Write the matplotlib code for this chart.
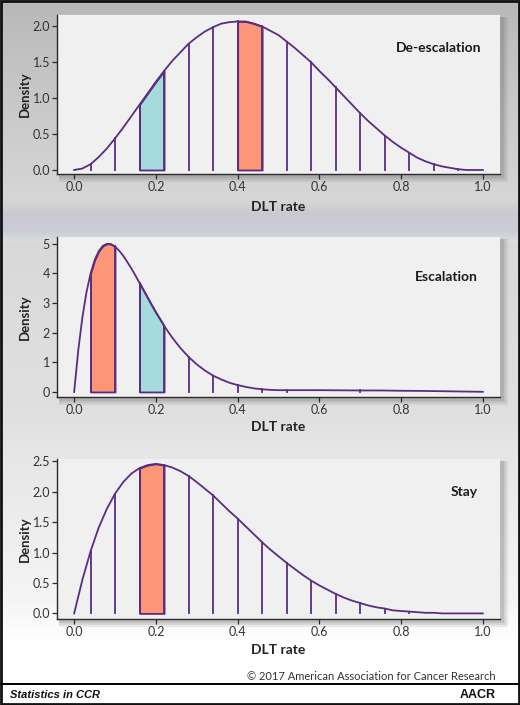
import numpy as np
import matplotlib
matplotlib.use("Agg")
from matplotlib import pyplot as plt
from matplotlib.patches import Rectangle

plt.rcParams['font.family'] = ['Lato', 'DejaVu Sans']

# ---- data ----
grid = [round(0.02 * i, 2) for i in range(51)]

deesc_density = [0.0, 0.02, 0.08, 0.18, 0.30, 0.44, 0.59, 0.75, 0.91, 1.07,
                 1.23, 1.38, 1.52, 1.64, 1.76, 1.85, 1.93, 1.99, 2.04, 2.06,
                 2.07, 2.07, 2.04, 2.00, 1.94, 1.88, 1.79, 1.70, 1.60, 1.50,
                 1.38, 1.27, 1.15, 1.03, 0.91, 0.79, 0.68, 0.58, 0.48, 0.39,
                 0.31, 0.24, 0.17, 0.12, 0.08, 0.05, 0.03, 0.01, 0.0, 0.0, 0.0]

stay_density = [0.0, 0.55, 1.02, 1.41, 1.72, 1.97, 2.16, 2.30, 2.39, 2.44,
                2.46, 2.44, 2.40, 2.34, 2.26, 2.16, 2.05, 1.94, 1.81, 1.68,
                1.56, 1.43, 1.30, 1.17, 1.05, 0.94, 0.83, 0.73, 0.63, 0.54,
                0.46, 0.39, 0.32, 0.26, 0.21, 0.17, 0.13, 0.10, 0.08, 0.05,
                0.04, 0.03, 0.02, 0.01, 0.01, 0.0, 0.0, 0.0, 0.0, 0.0, 0.0]

esc_x = [0.0, 0.01, 0.02, 0.03, 0.04, 0.05, 0.06, 0.07, 0.08, 0.09, 0.10,
         0.11, 0.12, 0.13, 0.14, 0.15, 0.16, 0.17, 0.18, 0.19, 0.20,
         0.22, 0.24, 0.26, 0.28, 0.30, 0.32, 0.34, 0.36, 0.38, 0.40,
         0.42, 0.44, 0.46, 0.48, 0.50, 0.52, 0.55, 0.60, 0.65, 0.70,
         0.75, 0.80, 0.85, 0.90, 0.95, 1.0]
esc_density = [0.0, 1.40, 2.50, 3.35, 3.98, 4.44, 4.74, 4.92, 4.99, 4.98, 4.90,
               4.76, 4.59, 4.38, 4.16, 3.92, 3.67, 3.42, 3.17, 2.92, 2.68,
               2.23, 1.83, 1.48, 1.18, 0.93, 0.72, 0.55, 0.42, 0.31, 0.23,
               0.17, 0.12, 0.09, 0.07, 0.06, 0.06, 0.06, 0.06, 0.055, 0.05,
               0.05, 0.04, 0.035, 0.025, 0.015, 0.005]

dose_cuts = [0.04, 0.10, 0.16, 0.22, 0.28, 0.34, 0.40, 0.46, 0.52, 0.58,
             0.64, 0.70, 0.76, 0.82, 0.88, 0.94]

panel_names = ["De-escalation", "Escalation", "Stay"]
panel_x = [grid, esc_x, grid]
panel_y = [deesc_density, esc_density, stay_density]
orange_band = [(0.40, 0.46), (0.04, 0.10), (0.16, 0.22)]
teal_band = [(0.16, 0.22), (0.16, 0.22), None]
y_ticks = [[0.0, 0.5, 1.0, 1.5, 2.0], [0, 1, 2, 3, 4, 5], [0.0, 0.5, 1.0, 1.5, 2.0, 2.5]]
y_fmt = ["{:.1f}", "{:d}", "{:.1f}"]

# ---- styling / layout (pixels) ----
W, H = 520, 705
purple = "#5a2d80"
orange = "#fc9677"
teal = "#a6dbdc"
ax_left, ax_right = 57, 500
ax_tops = [15, 237, 459]
ax_bots = [174, 397, 619]
y_lims = [(-0.056, 2.16), (-0.17, 5.22), (-0.092, 2.54)]
title_pos = [(481, 48), (478, 277), (478, 492)]
xlabel_y = [207, 427, 650]

fig = plt.figure(figsize=(W / 100, H / 100), dpi=100)


def fx(px):
    return px / W


def fy(py):
    return 1 - py / H


# background gradient
bg = fig.add_axes([0, 0, 1, 1], zorder=-10)
stops_y = [0, 40, 200, 214, 232, 242, 420, 445, 600, 640, 705]
stops_c = [0.72, 0.75, 0.84, 0.79, 0.80, 0.85, 0.88, 0.90, 0.96, 1.0, 1.0]
rows = np.arange(H)
gray = np.interp(rows, stops_y, stops_c)
img = np.stack([gray, gray, gray], axis=-1)[:, None, :]
img[(rows >= 214) & (rows < 232), 0, 2] += 0.04
img[(rows >= 232) & (rows < 242), 0, 1] += 0.02
img[(rows >= 232) & (rows < 242), 0, 2] += 0.02
bg.imshow(np.clip(img, 0, 1), aspect="auto", extent=[0, W, H, 0])
bg.set_xlim(0, W)
bg.set_ylim(H, 0)
bg.axis("off")

# white footer strip
bg.add_patch(Rectangle((0, 640), W, 65, color="white", zorder=1))
bg.plot([0, W], [684, 684], color="black", lw=1.4, zorder=3)
bg.add_patch(Rectangle((0.8, 0.8), W - 1.6, H - 1.6, fill=False, ec="#111111", lw=2, zorder=4))

for i in range(3):
    top, bot = ax_tops[i], ax_bots[i]
    # soft shadow behind axes
    for k, a in zip([6, 4, 2], [0.12, 0.15, 0.2]):
        bg.add_patch(Rectangle((ax_left + 2, top + 2), ax_right - ax_left + k, bot - top + k,
                               color="#707070", alpha=a, lw=0, zorder=2))

    ax = fig.add_axes([fx(ax_left), fy(bot), fx(ax_right - ax_left), (bot - top) / H])
    ax.set_facecolor("#f0f0f0")
    xs = np.array(panel_x[i])
    ys = np.array(panel_y[i])

    for lo_hi, col in [(orange_band[i], orange), (teal_band[i], teal)]:
        if lo_hi is None:
            continue
        m = (xs >= lo_hi[0] - 1e-9) & (xs <= lo_hi[1] + 1e-9)
        ax.fill_between(xs[m], 0, ys[m], facecolor=col, edgecolor=purple, lw=1.3, zorder=2)

    for c in dose_cuts:
        hit = np.where(np.isclose(xs, c))[0]
        if len(hit) == 0:
            continue
        ax.plot([c, c], [0, ys[hit[0]]], color=purple, lw=1.3, zorder=3)

    ax.plot(xs, ys, color=purple, lw=1.3, zorder=4)

    ax.set_xlim(-0.042, 1.042)
    ax.set_ylim(*y_lims[i])
    ax.set_xticks([0.0, 0.2, 0.4, 0.6, 0.8, 1.0])
    ax.set_xticklabels(["0.0", "0.2", "0.4", "0.6", "0.8", "1.0"])
    ax.set_yticks(y_ticks[i])
    ax.set_yticklabels([y_fmt[i].format(v) for v in y_ticks[i]])
    for s in ["top", "right"]:
        ax.spines[s].set_visible(False)
    for s in ["left", "bottom"]:
        ax.spines[s].set_color("#2a2a2a")
        ax.spines[s].set_linewidth(1.0)
    ax.tick_params(direction="out", length=3.5, width=0.9, color="#2a2a2a",
                   labelsize=9, labelcolor="#333333", pad=1.5)

    ax.set_xlabel("DLT rate", fontsize=10, fontweight="bold", color="#222222")
    ax.xaxis.label.set_va("center")
    ax.xaxis.set_label_coords(0.5, (bot - xlabel_y[i]) / (bot - top))
    ax.set_ylabel("Density", fontsize=9.5, fontweight="bold", color="#222222")
    ax.yaxis.label.set_va("center")
    ax.yaxis.set_label_coords((25 - ax_left) / (ax_right - ax_left), 0.5)

    tx, ty = title_pos[i]
    ax.text((tx - ax_left) / (ax_right - ax_left), (bot - ty) / (bot - top), panel_names[i],
            transform=ax.transAxes, ha="right", va="center", fontsize=10,
            fontweight="bold", color="#1a1a1a")

fig.text(fx(496), fy(676), "\u00a9 2017 American Association for Cancer Research",
         ha="right", va="center", fontsize=8, color="#333333")
fig.text(fx(10), fy(695), "Statistics in CCR", ha="left", va="center", fontsize=8,
         fontweight="bold", style="italic", color="#111111",
         family=["Liberation Sans", "DejaVu Sans"])
fig.text(fx(496), fy(695), "AACR", ha="right", va="center", fontsize=9,
         fontweight="bold", color="#111111", family=["Liberation Sans", "DejaVu Sans"])

fig.savefig("out.png", dpi=100)
